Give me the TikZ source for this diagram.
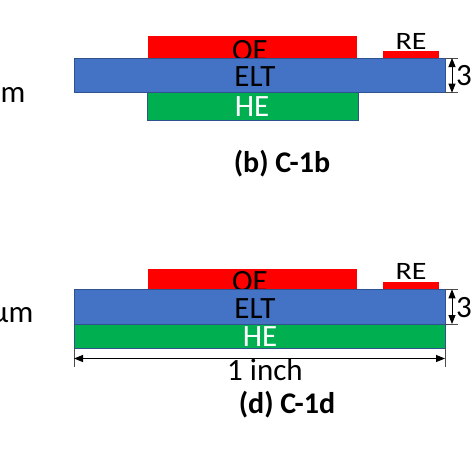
\documentclass[tikz,border=0pt]{standalone}
\usepackage{fontspec}
\setmainfont{Carlito}
\usetikzlibrary{arrows.meta}
\definecolor{oered}{RGB}{255,0,0}
\definecolor{eltblue}{RGB}{68,114,196}
\definecolor{hegreen}{RGB}{0,176,80}
\definecolor{edgeblue}{RGB}{47,82,143}
\tikzset{
  lbl/.style={font=\fontsize{31}{36}\selectfont, inner sep=0pt, anchor=base},
  relbl/.style={font=\fontsize{25}{28}\selectfont, inner sep=0pt, anchor=base, xscale=1.2},
  captext/.style={font=\fontsize{30}{36}\selectfont\bfseries, inner sep=0pt, anchor=base},
  redlayer/.style={fill=oered, draw=none},
  bluelayer/.style={fill=eltblue, draw=edgeblue, line width=0.6pt},
  greenlayer/.style={fill=hegreen, draw=edgeblue, line width=0.6pt},
  extline/.style={draw=black!70, line width=0.6pt},
  dimarrow/.style={draw=black, line width=0.8pt, {Triangle[length=9pt,width=7pt]}-{Triangle[length=9pt,width=7pt]}}
}
\begin{document}
\begin{tikzpicture}[x=1pt,y=-1pt]
\useasboundingbox (0,0) rectangle (474,474);
\fill[white] (0,0) rectangle (474,474);
\clip (0,0) rectangle (474,474);

% ---------- (b) C-1b ----------
\fill[redlayer] (148,36) rectangle (357,58);
\node[lbl] (oeb) at (250,60) {OE};
\fill[redlayer] (383,50.5) rectangle (439,58);
\node[relbl] (reb) at (411,49) {RE};
\draw[bluelayer] (74,58) rectangle (445,92.7);
\node[lbl] (eltb) at (255,86.5) {ELT};
\draw[greenlayer] (147,92.7) rectangle (358,120);
\node[lbl, text=white] (heb) at (252,116.5) {HE};
\coordinate (b1s) at (445,58);  \coordinate (b1e) at (458,58);
\coordinate (b2s) at (445,92.7); \coordinate (b2e) at (458,92.7);
\draw[extline] (b1s) -- (b1e);
\draw[extline] (b2s) -- (b2e);
\coordinate (bat) at (452,58); \coordinate (bab) at (452,92.7);
\draw[dimarrow] (bat) -- (bab);
\node[lbl, anchor=base west] (b3) at (456,85.5) {3};
\node[lbl, anchor=base west] (bum) at (0.5,102) {m};
\node[captext] (capb) at (282,172) {(b) C-1b};

% ---------- (d) C-1d ----------
\fill[redlayer] (148,269) rectangle (357,289.3);
\node[lbl] (oed) at (250,291.5) {OE};
\fill[redlayer] (383,282) rectangle (439,289.3);
\node[relbl] (red) at (411,279.5) {RE};
\draw[bluelayer] (74,289.3) rectangle (445,324);
\node[lbl] (eltd) at (255,318) {ELT};
\draw[greenlayer] (74,324) rectangle (445,348.3);
\node[lbl, text=white] (hed) at (260,346.5) {HE};
\coordinate (d1s) at (445,289.3); \coordinate (d1e) at (458,289.3);
\coordinate (d2s) at (445,324);   \coordinate (d2e) at (458,324);
\draw[extline] (d1s) -- (d1e);
\draw[extline] (d2s) -- (d2e);
\coordinate (dat) at (452,289.3); \coordinate (dab) at (452,324);
\draw[dimarrow] (dat) -- (dab);
\node[lbl, anchor=base west] (d3) at (456,317) {3};
\coordinate (dl1) at (74,348.3); \coordinate (dl2) at (74,367);
\coordinate (dr1) at (445,348.3); \coordinate (dr2) at (445,367);
\draw[extline] (dl1) -- (dl2);
\draw[extline] (dr1) -- (dr2);
\coordinate (dhl) at (74,358.5); \coordinate (dhr) at (445,358.5);
\draw[dimarrow] (dhl) -- (dhr);
\node[lbl] (inch) at (265,380) {1 inch};
\node[lbl, anchor=base east] (dum) at (33.5,322) {µm};
\node[captext] (capd) at (287,413) {(d) C-1d};
\end{tikzpicture}
\end{document}
